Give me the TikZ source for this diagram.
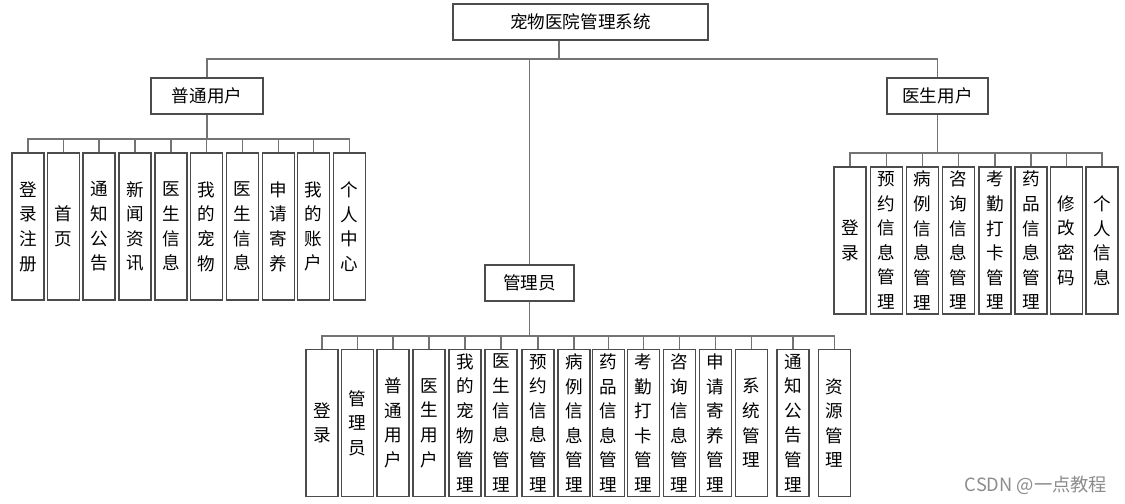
\documentclass[tikz,border=0pt]{standalone}
\usepackage{fontspec}
\newfontfamily\cjk{Noto Sans CJK SC}
\usepackage{tikz}

\tikzset{
  box/.style={draw=black!70, line width=0.9pt, fill=white, inner sep=0pt,
    minimum height=0.9cm, font=\cjk\fontsize{12.5}{17.5}\selectfont},
  item/.style={box, minimum width=0.8cm, minimum height=3.675cm, align=center},
  link/.style={draw=black!55, line width=0.8pt}
}

\begin{document}
\begin{tikzpicture}[x=0.025cm, y=-0.025cm]
\useasboundingbox (0,0) rectangle (1125,504);

\node[box, minimum width=6.375cm] (R) at (580.5,22) {宠物医院管理系统};
\node[box, minimum width=2.8cm]   (U) at (207,96)   {普通用户};
\node[box, minimum width=2.225cm] (M) at (529.5,283) {管理员};
\node[box, minimum width=2.525cm] (D) at (937.5,96) {医生用户};

% normal user
\node[item] (U1)  at (28,226.5)    {登\\录\\注\\册};
\node[item] (U2)  at (63.5,226.5)  {首\\页};
\node[item] (U3)  at (99,226.5)    {通\\知\\公\\告};
\node[item] (U4)  at (135,226.5)   {新\\闻\\资\\讯};
\node[item] (U5)  at (171,226.5)   {医\\生\\信\\息};
\node[item] (U6)  at (206.5,226.5) {我\\的\\宠\\物};
\node[item] (U7)  at (242.5,226.5) {医\\生\\信\\息};
\node[item] (U8)  at (278.5,226.5) {申\\请\\寄\\养};
\node[item] (U9)  at (313.5,226.5) {我\\的\\账\\户};
\node[item] (U10) at (349.5,226.5) {个\\人\\中\\心};

% doctor user
\node[item] (D1) at (850,240.5)    {登\\录};
\node[item] (D2) at (886.5,240.5)  {预\\约\\信\\息\\管\\理};
\node[item] (D3) at (922.5,240.5)  {病\\例\\信\\息\\管\\理};
\node[item] (D4) at (958.5,240.5)  {咨\\询\\信\\息\\管\\理};
\node[item] (D5) at (995,240.5)    {考\\勤\\打\\卡\\管\\理};
\node[item] (D6) at (1031,240.5)   {药\\品\\信\\息\\管\\理};
\node[item] (D7) at (1066.5,240.5) {修\\改\\密\\码};
\node[item] (D8) at (1102,240.5)   {个\\人\\信\\息};

% administrator
\node[item] (M1)  at (322,423)   {登\\录};
\node[item] (M2)  at (357.5,423) {管\\理\\员};
\node[item] (M3)  at (393,423)   {普\\通\\用\\户};
\node[item] (M4)  at (429,423)   {医\\生\\用\\户};
\node[item] (M5)  at (465,423)   {我\\的\\宠\\物\\管\\理};
\node[item] (M6)  at (501,423)   {医\\生\\信\\息\\管\\理};
\node[item] (M7)  at (538,423)   {预\\约\\信\\息\\管\\理};
\node[item] (M8)  at (574,423)   {病\\例\\信\\息\\管\\理};
\node[item] (M9)  at (608.5,423) {药\\品\\信\\息\\管\\理};
\node[item] (M10) at (643.5,423) {考\\勤\\打\\卡\\管\\理};
\node[item] (M11) at (679.5,423) {咨\\询\\信\\息\\管\\理};
\node[item] (M12) at (715.5,423) {申\\请\\寄\\养\\管\\理};
\node[item] (M13) at (751.5,423) {系\\统\\管\\理};
\node[item] (M14) at (793,423)   {通\\知\\公\\告\\管\\理};
\node[item] (M15) at (834.5,423) {资\\源\\管\\理};

\coordinate (T)  at (559,59);
\coordinate (UB) at (207,139);
\coordinate (DB) at (937.5,153);
\coordinate (MB) at (529.5,336);

\draw[link] (R.south -| T) -- (T);
\draw[link] (U.north) |- (T);
\draw[link] (M.north) |- (T);
\draw[link] (D.north) |- (T);

\draw[link] (U.south) -- (UB);
\draw[link] (U1.north) |- (UB);
\draw[link] (U2.north) |- (UB);
\draw[link] (U3.north) |- (UB);
\draw[link] (U4.north) |- (UB);
\draw[link] (U5.north) |- (UB);
\draw[link] (U6.north) |- (UB);
\draw[link] (U7.north) |- (UB);
\draw[link] (U8.north) |- (UB);
\draw[link] (U9.north) |- (UB);
\draw[link] (U10.north) |- (UB);

\draw[link] (D.south) -- (DB);
\draw[link] (D1.north) |- (DB);
\draw[link] (D2.north) |- (DB);
\draw[link] (D3.north) |- (DB);
\draw[link] (D4.north) |- (DB);
\draw[link] (D5.north) |- (DB);
\draw[link] (D6.north) |- (DB);
\draw[link] (D7.north) |- (DB);
\draw[link] (D8.north) |- (DB);

\draw[link] (M.south) -- (MB);
\draw[link] (M1.north) |- (MB);
\draw[link] (M2.north) |- (MB);
\draw[link] (M3.north) |- (MB);
\draw[link] (M4.north) |- (MB);
\draw[link] (M5.north) |- (MB);
\draw[link] (M6.north) |- (MB);
\draw[link] (M7.north) |- (MB);
\draw[link] (M8.north) |- (MB);
\draw[link] (M9.north) |- (MB);
\draw[link] (M10.north) |- (MB);
\draw[link] (M11.north) |- (MB);
\draw[link] (M12.north) |- (MB);
\draw[link] (M13.north) |- (MB);
\draw[link] (M14.north) |- (MB);
\draw[link] (M15.north) |- (MB);

\node[text=black!45, font=\cjk\fontsize{13}{15}\selectfont] (W) at (1036,485) {CSDN @一点教程};
\end{tikzpicture}
\end{document}
